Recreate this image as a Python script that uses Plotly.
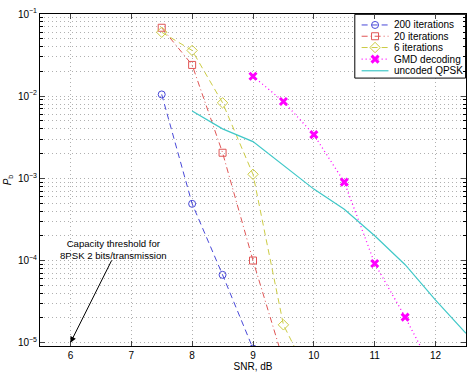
import plotly.graph_objects as go

snr_200 = [7.5, 8.0, 8.5, 9.0]
pb_200 = [1.05e-2, 4.9e-4, 6.7e-5, 8.5e-6]

snr_20 = [7.5, 8.0, 8.5, 9.0, 9.5]
pb_20 = [6.8e-2, 2.4e-2, 2.05e-3, 1.0e-4, 6.0e-6]

snr_6 = [7.5, 8.0, 8.5, 9.0, 9.5, 10.0]
pb_6 = [6.0e-2, 3.6e-2, 8.3e-3, 1.12e-3, 1.65e-5, 3.0e-6]

snr_gmd = [9.0, 9.5, 10.0, 10.5, 11.0, 11.5, 12.0]
pb_gmd = [1.75e-2, 8.6e-3, 3.4e-3, 9.0e-4, 9.2e-5, 2.05e-5, 4.0e-6]

snr_qpsk = [8.0, 8.5, 9.0, 9.5, 10.0, 10.5, 11.0, 11.5, 12.0, 12.5]
pb_qpsk = [6.6e-3, 4.0e-3, 2.8e-3, 1.45e-3, 7.4e-4, 4.2e-4, 2.0e-4, 8.9e-5, 3.3e-5, 1.3e-5]

series_names = ["200 iterations", "20 iterations", "6 iterations", "GMD decoding", "uncoded QPSK"]

x_ticks = [6, 7, 8, 9, 10, 11, 12]
y_tickvals = [1e-5, 1e-4, 1e-3, 1e-2, 1e-1]
y_ticktext = ["10<sup>−5</sup>", "10<sup>−4</sup>", "10<sup>−3</sup>", "10<sup>−2</sup>", "10<sup>−1</sup>"]

font = "Liberation Sans, Arial, sans-serif"

styles = [
    dict(mode="lines+markers", line=dict(color="#4848d8", dash="6px,4px", width=1),
         marker=dict(symbol="circle-open", size=7, color="#4848d8", line=dict(width=1))),
    dict(mode="lines+markers", line=dict(color="#e05555", dash="6px,3px,1px,3px", width=1),
         marker=dict(symbol="square-open", size=7, color="#e05555", line=dict(width=1))),
    dict(mode="lines+markers", line=dict(color="#cccc44", dash="6px,4px", width=1),
         marker=dict(symbol="diamond-open", size=8, color="#cccc44", line=dict(width=1))),
    dict(mode="lines+markers", line=dict(color="#ff00ff", dash="1px,3px", width=1.3),
         marker=dict(symbol="x-thin-open", size=7, color="#ff00ff", line=dict(width=3, color="#ff00ff"))),
    dict(mode="lines", line=dict(color="#40c8c8", width=1.2)),
]

data = [(snr_200, pb_200), (snr_20, pb_20), (snr_6, pb_6), (snr_gmd, pb_gmd), (snr_qpsk, pb_qpsk)]

fig = go.Figure()
for (xs, ys), name, st in zip(data, series_names, styles):
    fig.add_trace(go.Scatter(x=xs, y=ys, name=name, showlegend=False, **st))

# custom compact legend (MATLAB-style) on an overlay axis spanning the plot area
leg_left, leg_right, leg_top, leg_bottom = 0.739, 0.999, 0.999, 0.807
row_y = [0.967, 0.933, 0.899, 0.864, 0.829]
line_x0, line_x1, text_x = 0.755, 0.818, 0.826
fig.add_trace(go.Scatter(x=[leg_left, leg_right, leg_right, leg_left, leg_left],
                         y=[leg_bottom, leg_bottom, leg_top, leg_top, leg_bottom],
                         mode="lines", fill="toself", fillcolor="white",
                         line=dict(color="black", width=1),
                         xaxis="x2", yaxis="y2", showlegend=False, hoverinfo="skip"))
for name, st, yy in zip(series_names, styles, row_y):
    fig.add_trace(go.Scatter(x=[line_x0, line_x1], y=[yy, yy], mode="lines", line=st["line"],
                             xaxis="x2", yaxis="y2", showlegend=False, hoverinfo="skip"))
    if "marker" in st:
        fig.add_trace(go.Scatter(x=[(line_x0 + line_x1) / 2], y=[yy], mode="markers", marker=st["marker"],
                                 xaxis="x2", yaxis="y2", showlegend=False, hoverinfo="skip"))
    fig.add_annotation(x=text_x, y=yy, xref="x2", yref="y2", text=name, showarrow=False,
                       xanchor="left", yanchor="middle", font=dict(family=font, size=10, color="black"))

fig.add_annotation(x=6, y=-5, ax=6.69, ay=-3.98, xref="x", yref="y", axref="x", ayref="y",
                   text="", showarrow=True, arrowhead=2, arrowsize=1.2, arrowwidth=1, arrowcolor="black")
fig.add_annotation(x=6.71, y=-3.86, xref="x", yref="y", showarrow=False,
                   text="Capacity threshold for<br>8PSK 2 bits/transmission",
                   font=dict(family=font, size=9.6, color="black"), align="center")

grid = dict(showgrid=True, gridcolor="#b0b0b0", griddash="1px,3px", gridwidth=1)
xaxis = dict(range=[5.5, 12.5], tickvals=x_ticks, ticks="inside", ticklen=5, mirror="allticks",
             showline=True, linecolor="black", linewidth=1, zeroline=False,
             title=dict(text="SNR, dB", standoff=2, font=dict(family=font, size=10)),
             tickfont=dict(family=font, size=10), **grid)
yaxis = dict(type="log", range=[-5.04, -1], tickvals=y_tickvals, ticktext=y_ticktext,
             ticks="inside", ticklen=5, mirror="allticks",
             showline=True, linecolor="black", linewidth=1,
             minor=dict(ticks="inside", ticklen=3, dtick="D1", showgrid=True,
                        gridcolor="#b0b0b0", griddash="1px,3px", gridwidth=1, tickcolor="black"),
             title=dict(text="<i>P</i><sub>b</sub>", standoff=4, font=dict(family=font, size=10)),
             tickfont=dict(family=font, size=10), **grid)

fig.update_layout(width=474, height=377, margin=dict(l=38, r=7, t=13, b=28),
                  plot_bgcolor="white", paper_bgcolor="white",
                  font=dict(family=font, size=10, color="black"),
                  showlegend=False,
                  xaxis=xaxis, yaxis=yaxis,
                  xaxis2=dict(overlaying="x", range=[0, 1], visible=False, fixedrange=True),
                  yaxis2=dict(overlaying="y", range=[0, 1], visible=False, fixedrange=True))

fig.write_html("out.html")
